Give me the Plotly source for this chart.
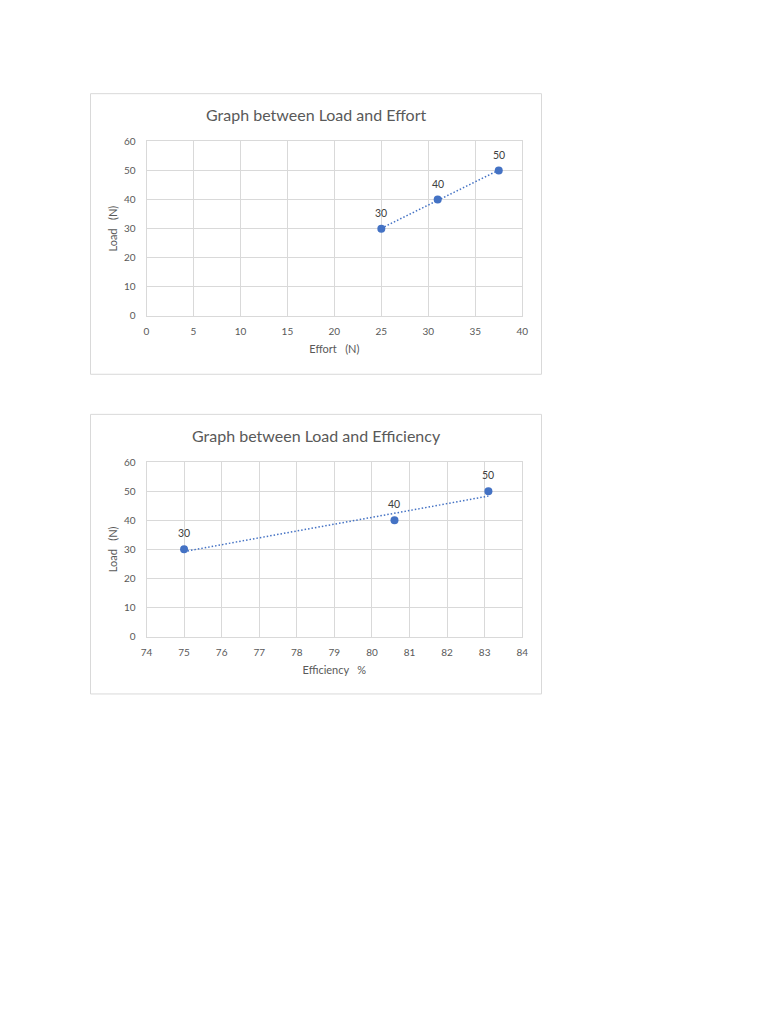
import numpy as np
import plotly.graph_objects as go

# ---- data ----
load = [30, 40, 50]
effort = [25, 31, 37.5]
efficiency = [75, 80.6, 83.1]

title1 = "Graph between Load and Effort"
title2 = "Graph between Load and Efficiency"
xtitle1 = "Effort\u00a0\u00a0\u00a0(N)"
xtitle2 = "Efficiency\u00a0\u00a0\u00a0%"
ytitle = "Load\u00a0\u00a0\u00a0(N)"

W, H = 752, 1008
BLUE = "#4472C4"
GRID = "#d9d9d9"
TXT = "#595959"
FONT = "Lato, 'Open Sans', sans-serif"

# map screen-pixel targets to figure fractions (empirical page offset/scale)
KX, AX = 0.984, 6.5
KY, AY = 0.986, 6.5


def px_x(p):
    return ((p - AX) / KX) / W


def px_y(p):
    return 1 - ((p - AY) / KY) / H


fig = go.Figure()

charts = [
    dict(x=effort, xa="x", ya="y", xr=[0, 40], dt=5, xdom=[147, 522.7], ydom=[140.7, 314.7],
         box=[91, 93, 542, 373], title=title1, xt=xtitle1),
    dict(x=efficiency, xa="x2", ya="y2", xr=[74, 84], dt=1, xdom=[147, 522.7], ydom=[460.7, 634.7],
         box=[91, 413, 542, 692], title=title2, xt=xtitle2),
]

annotations = []
shapes = []
for i, c in enumerate(charts):
    xs = np.array(c["x"], dtype=float)
    ys = np.array(load, dtype=float)
    # linear trendline (least-squares fit)
    m, b = np.polyfit(xs, ys, 1)
    tx = np.array([xs.min(), xs.max()])
    fig.add_trace(go.Scatter(x=tx, y=m * tx + b, mode="lines", xaxis=c["xa"], yaxis=c["ya"],
                             line=dict(color=BLUE, width=1.5, dash="1.5px,2px"), showlegend=False,
                             hoverinfo="skip"))
    fig.add_trace(go.Scatter(x=c["x"], y=load, mode="markers", xaxis=c["xa"], yaxis=c["ya"],
                             marker=dict(color=BLUE, size=8), showlegend=False))
    for xv, yv in zip(c["x"], load):
        annotations.append(dict(x=xv, y=yv, xref=c["xa"], yref=c["ya"], text=str(yv),
                                showarrow=False, yshift=16,
                                font=dict(size=10.5, color="#404040", family=FONT)))
    sfx = "" if i == 0 else "2"
    fig.layout["xaxis" + sfx] = dict(
        domain=[px_x(c["xdom"][0]), px_x(c["xdom"][1])], range=c["xr"], dtick=c["dt"],
        anchor="y" + sfx, showgrid=True, gridcolor=GRID, gridwidth=1, zeroline=False,
        showline=True, linecolor=GRID, mirror=True, ticks="", ticklabelstandoff=6,
        tickfont=dict(size=10, color=TXT, family=FONT),
        title=dict(text=c["xt"], font=dict(size=11, color=TXT, family=FONT), standoff=9),
    )
    fig.layout["yaxis" + sfx] = dict(
        domain=[px_y(c["ydom"][1]), px_y(c["ydom"][0])], range=[0, 60], dtick=10,
        anchor="x" + sfx, showgrid=True, gridcolor=GRID, gridwidth=1, zeroline=False,
        showline=True, linecolor=GRID, mirror=True, ticks="", ticklabelstandoff=8,
        tickfont=dict(size=10, color=TXT, family=FONT),
        title=dict(text=ytitle, font=dict(size=11, color=TXT, family=FONT), standoff=4),
    )
    bx0, by0, bx1, by1 = c["box"]
    shapes.append(dict(type="rect", xref="paper", yref="paper",
                       x0=px_x(bx0), x1=px_x(bx1), y0=px_y(by1), y1=px_y(by0),
                       line=dict(color=GRID, width=1), layer="below"))
    annotations.append(dict(x=px_x((bx0 + bx1) / 2), y=px_y(by0 + 21), xref="paper", yref="paper",
                            text=c["title"], showarrow=False, xanchor="center", yanchor="middle",
                            font=dict(size=16, color=TXT, family=FONT)))

fig.update_layout(
    width=W, height=H, margin=dict(l=0, r=0, t=0, b=0),
    paper_bgcolor="white", plot_bgcolor="white",
    annotations=annotations, shapes=shapes, showlegend=False,
)

fig.write_html("out.html")
